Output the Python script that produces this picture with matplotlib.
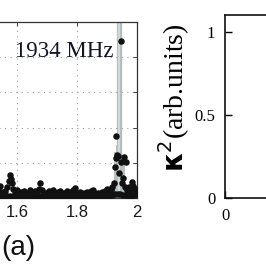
import matplotlib
matplotlib.use('Agg')
import matplotlib.pyplot as plt

# left panel: noise floor (GHz, arb. units)
freq = [1.530, 1.536, 1.542, 1.548, 1.554, 1.560, 1.566, 1.572, 1.576, 1.580,
        1.584, 1.588, 1.594, 1.600, 1.606, 1.612, 1.618, 1.624, 1.630, 1.636,
        1.642, 1.648, 1.654, 1.660, 1.666, 1.672, 1.678, 1.684, 1.690, 1.696,
        1.702, 1.708, 1.714, 1.720, 1.726, 1.732, 1.738, 1.744, 1.750, 1.756,
        1.762, 1.768, 1.774, 1.780, 1.786, 1.792, 1.798, 1.804, 1.810, 1.816,
        1.822, 1.828, 1.834, 1.840, 1.846, 1.852, 1.858, 1.864, 1.870, 1.876,
        1.882, 1.888, 1.894, 1.900, 1.906, 1.912, 1.918, 1.966, 1.972, 1.978,
        1.986, 1.992, 1.997]
kappa = [0.030, 0.055, 0.070, 0.035, 0.020, 0.040, 0.060, 0.095, 0.130, 0.110,
         0.085, 0.050, 0.030, 0.045, 0.020, 0.035, 0.015, 0.040, 0.025, 0.030,
         0.045, 0.020, 0.035, 0.040, 0.025, 0.050, 0.085, 0.045, 0.030, 0.020,
         0.035, 0.040, 0.025, 0.045, 0.030, 0.020, 0.035, 0.040, 0.025, 0.030,
         0.020, 0.040, 0.030, 0.035, 0.045, 0.055, 0.030, 0.020, 0.035, 0.025,
         0.030, 0.020, 0.035, 0.025, 0.040, 0.045, 0.030, 0.020, 0.030, 0.025,
         0.035, 0.030, 0.040, 0.050, 0.035, 0.045, 0.060, 0.045, 0.060, 0.040,
         0.070, 0.050, 0.040]
floor_freq = [1.530, 1.539, 1.548, 1.557, 1.566, 1.575, 1.584, 1.593, 1.602, 1.611,
              1.620, 1.629, 1.638, 1.647, 1.656, 1.665, 1.674, 1.683, 1.692, 1.701,
              1.710, 1.719, 1.728, 1.737, 1.746, 1.755, 1.764, 1.773, 1.782, 1.791,
              1.800, 1.809, 1.818, 1.827, 1.836, 1.845, 1.854, 1.863, 1.872, 1.881,
              1.890, 1.899, 1.908, 1.917, 1.926, 1.935, 1.944, 1.953, 1.962, 1.971,
              1.980, 1.989, 1.998]
floor_kappa = [0.010, 0.008, 0.012, 0.006, 0.010, 0.014, 0.008, 0.010, 0.006, 0.012,
               0.008, 0.010, 0.012, 0.006, 0.010, 0.008, 0.012, 0.010, 0.006, 0.008,
               0.012, 0.010, 0.008, 0.006, 0.012, 0.010, 0.008, 0.010, 0.006, 0.012,
               0.008, 0.010, 0.006, 0.012, 0.008, 0.010, 0.012, 0.006, 0.010, 0.008,
               0.012, 0.010, 0.014, 0.016, 0.020, 0.025, 0.022, 0.018, 0.015, 0.012,
               0.014, 0.016, 0.020]

# resonance near 1934 MHz
spike_freq = [1.929, 1.932, 1.938, 1.930, 1.946, 1.957, 1.963, 1.927, 1.941,
              1.952, 1.924, 1.949, 1.982, 1.960, 1.946]
spike_kappa = [0.352, 0.244, 0.240, 0.227, 0.206, 0.233, 0.206, 0.178, 0.144,
               0.112, 0.083, 0.083, 0.093, 0.064, 0.894]
bar_freq = [1.926, 1.932, 1.952, 1.958]
bar_top = [0.26, 0.30, 0.22, 0.24]
line_freq = 1.940

ticks_left = [1.6, 1.8, 2.0]
ticks_right_y = [0, 0.5, 1]

fig = plt.figure(figsize=(2.66, 2.66), dpi=100)

ax = fig.add_axes([(137 - 180) / 266, 1 - 198 / 266, 180 / 266, 176 / 266])
ax.set_xlim(1.4, 2.0)
ax.set_ylim(0, 1)
ax.axvline(line_freq, color='#b2bbbb', lw=3.8, zorder=1)
ax.axvline(line_freq, color='#d3d9d9', lw=1.6, zorder=1)
ax.vlines(bar_freq, 0, bar_top, color='#b8c0c0', lw=1.4, zorder=1)
ax.scatter(floor_freq, floor_kappa, s=22, color='#111111', lw=0, zorder=3)
ax.scatter(freq, kappa, s=22, color='#111111', lw=0, zorder=3)
ax.scatter(spike_freq, spike_kappa, s=22, color='#111111', lw=0, zorder=3)
ax.set_xticks([1.4] + ticks_left)
ax.set_xticklabels([''] + ['%g' % t for t in ticks_left], family='Liberation Sans',
                   fontsize=12, color='#1a1a1a')
ax.set_yticks([0.2, 0.4, 0.6, 0.8])
ax.set_yticklabels([])
ax.grid(True, color='#999999', ls=(0, (1, 4)), lw=0.8)
ax.tick_params(direction='in', top=True, right=True, length=3, width=0.7,
               color='#444444', pad=5)
for s in ax.spines.values():
    s.set_linewidth(0.9)
    s.set_color('#333333')
ax.text(1.592, 0.80, '1934 MHz', family='Liberation Serif', fontsize=16.5,
        color='#141428')

fig.text(18 / 266, 1 - 248 / 266, '(a)', family='Liberation Sans', fontsize=20,
         ha='center', va='center', color='#111111')

ax2 = fig.add_axes([225 / 266, 1 - 198 / 266, 0.5, 182.6 / 266])
ax2.set_xlim(0, 1)
ax2.set_ylim(0, 1.1)
ax2.set_yticks(ticks_right_y)
ax2.set_yticklabels(['%g' % t for t in ticks_right_y], family='Liberation Serif',
                    fontsize=12)
ax2.set_xticks([0, 0.5, 1])
ax2.set_xticklabels(['0', '', ''], family='Liberation Serif', fontsize=12)
ax2.tick_params(direction='in', length=5, width=1, pad=7)
for s in ax2.spines.values():
    s.set_linewidth(1.2)
    s.set_color('#111111')
ax2.set_ylabel(r'$\mathbf{\kappa}^{2}$(arb.units)', family='Liberation Serif',
               fontsize=20)
ax2.yaxis.set_label_coords(-0.248, 0.552)

fig.savefig('out.png', dpi=100)
